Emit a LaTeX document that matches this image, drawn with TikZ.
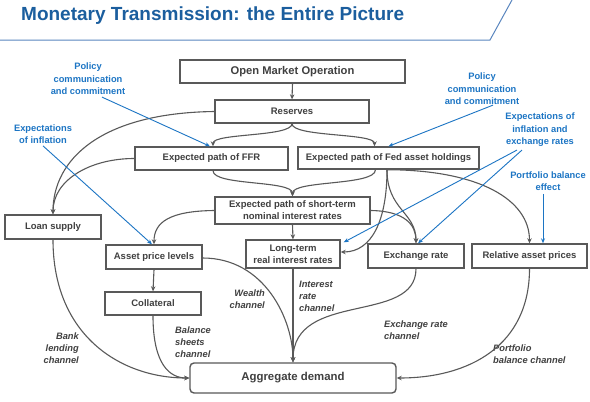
\documentclass[tikz,border=0pt]{standalone}
\usepackage{fontspec}
\setmainfont{Liberation Sans}
\usetikzlibrary{arrows.meta,calc}
\definecolor{boxgray}{HTML}{595959}
\definecolor{txtgray}{HTML}{404040}
\definecolor{lblue}{HTML}{1C75C4}
\definecolor{tblue}{HTML}{1B5E9E}
\definecolor{hline}{HTML}{5A86BF}
\begin{document}
\begin{tikzpicture}[x=1pt,y=-1pt,
  box/.style={draw=boxgray, line width=1.4pt, fill=white, text=txtgray,
    font=\fontsize{9.5}{12}\selectfont\bfseries, inner sep=0pt, align=center},
  conn/.style={draw=boxgray, line width=1.1pt, -{Stealth[length=5pt,width=4.5pt]}},
  bl/.style={draw=lblue, line width=0.9pt, -{Stealth[length=5pt,width=4pt]}},
  blbl/.style={text=lblue, font=\fontsize{9.3}{12.5}\selectfont\bfseries, align=center, inner sep=0pt},
  chl/.style={text=txtgray, font=\fontsize{9.3}{12}\selectfont\bfseries\itshape, inner sep=0pt}]
\useasboundingbox[fill=white] (0,0) rectangle (590,402);

% title
\node[anchor=west, text=tblue, font=\fontsize{19}{22}\selectfont\bfseries, inner sep=0pt] (title) at (21,16) {Monetary Transmission: the Entire Picture};
\draw[hline, line width=1pt] (0,40) -- (490,40) -- (512,0);

% boxes
\node[box, minimum width=225pt, minimum height=23pt, font=\fontsize{11.2}{13}\selectfont\bfseries] (omo) at (292.5,71.5) {Open Market Operation};
\node[box, minimum width=154pt, minimum height=23pt] (res) at (292,111.5) {Reserves};
\node[box, minimum width=153pt, minimum height=23pt] (ffr) at (211.5,158.5) {Expected path of FFR};
\node[box, minimum width=181pt, minimum height=22pt] (fed) at (388.5,158) {Expected path of Fed asset holdings};
\node[box, minimum width=155pt, minimum height=27pt] (str) at (292.5,210.5) {Expected path of short-term\\nominal interest rates};
\node[box, minimum width=94pt, minimum height=28pt] (ltr) at (293,254) {Long-term\\real interest rates};
\node[box, minimum width=96pt, minimum height=24pt] (exr) at (416,256) {Exchange rate};
\node[box, minimum width=115pt, minimum height=24pt] (rap) at (529.5,256) {Relative asset prices};
\node[box, minimum width=96pt, minimum height=24pt] (loan) at (53,227) {Loan supply};
\node[box, minimum width=96pt, minimum height=24pt] (apl) at (154,257) {Asset price levels};
\node[box, minimum width=96pt, minimum height=23pt] (col) at (153,303.5) {Collateral};
\node[box, rounded corners=4pt, minimum width=206pt, minimum height=30pt, font=\fontsize{11.4}{13}\selectfont\bfseries] (agg) at (293,378) {Aggregate demand};

% blue labels
\node[blbl] (pcl) at (88,79) {Policy\\communication\\and commitment};
\node[blbl] (pcr) at (482,89) {Policy\\communication\\and commitment};
\node[blbl] (eoi) at (43,134) {Expectations\\of inflation};
\node[blbl] (eie) at (540,130) {Expectations of\\inflation and\\exchange rates};
\node[blbl] (pbe) at (548,181) {Portfolio balance\\effect};

% channel labels
\node[chl, anchor=east, align=right] (bank) at (79,348.5) {Bank\\lending\\channel};
\node[chl, anchor=west, align=left] (bal) at (175,342) {Balance\\sheets\\channel};
\node[chl, anchor=east, align=right] (wea) at (265,299) {Wealth\\channel};
\node[chl, anchor=west, align=left] (int) at (299,296) {Interest\\rate\\channel};
\node[chl, anchor=west, align=left] (exc) at (384,330) {Exchange rate\\channel};
\node[chl, anchor=west, align=left] (pbc) at (493,354.5) {Portfolio\\balance channel};

% connectors
\draw[conn] (omo.south) -- (res.north);
\draw[conn] (res.south) .. controls (292,137) and (213,133) .. ([xshift=1.5pt]ffr.north);
\draw[conn] (res.south) .. controls (292,137) and (374.5,133) .. ([xshift=-14pt]fed.north);
\draw[conn] ([xshift=1.5pt]ffr.south) .. controls (213,186) and (292.5,180) .. (str.north);
\draw[conn] ([xshift=-13pt]fed.south) .. controls (375.5,186) and (292.5,180) .. (str.north);
\draw[conn] (res.west) .. controls (100,113) and (53,160) .. (loan.north);
\draw[conn] (ffr.west) .. controls (90,158.5) and (53,180) .. (loan.north);
\draw[conn] (str.west) .. controls (170,211) and (154,222) .. (apl.north);
\draw[conn] (str.south) -- (ltr.north);
\draw[conn] (str.east) .. controls (405,211) and (416,225) .. (exr.north);
\draw[conn] ([xshift=-1.5pt]fed.south) .. controls (387,220) and (372,252) .. ([yshift=2pt]ltr.east);
\draw[conn] ([xshift=-1.5pt]fed.south) .. controls (387,210) and (416,212) .. (exr.north);
\draw[conn] ([xshift=-1.5pt]fed.south) .. controls (480,170) and (529.5,200) .. (rap.north);
\draw[conn] ([yshift=-1pt]apl.east) .. controls (265,258) and (293,320) .. (agg.north);
\draw[conn] (ltr.south) -- (agg.north);
\draw[conn] (exr.south) .. controls (416,325) and (293,290) .. (agg.north);
\draw[conn] (rap.south) .. controls (529.5,345) and (470,378) .. (agg.east);
\draw[conn] (loan.south) .. controls (53,335) and (120,378) .. (agg.west);
\draw[conn] (apl.south) -- (col.north);
\draw[conn] (col.south) .. controls (153,365) and (170,378) .. (agg.west);

% blue arrows
\draw[bl] ($(pcl.south)+(14,2)$) -- ([xshift=-1.5pt]ffr.north);
\draw[bl] ($(eoi.south)+(0,2)$) -- ([xshift=-2pt]apl.north);
\draw[bl] ($(pcr.south)+(11,0)$) -- (fed.north);
\draw[bl] ($(eie.south)+(-23,3)$) -- ([xshift=3pt,yshift=-3pt]ltr.north east);
\draw[bl] ($(eie.south)+(-18,3)$) -- ([xshift=2pt]exr.north);
\draw[bl] ($(pbe.south)+(-5,3)$) -- ([xshift=13.5pt]rap.north);
\end{tikzpicture}
\end{document}
